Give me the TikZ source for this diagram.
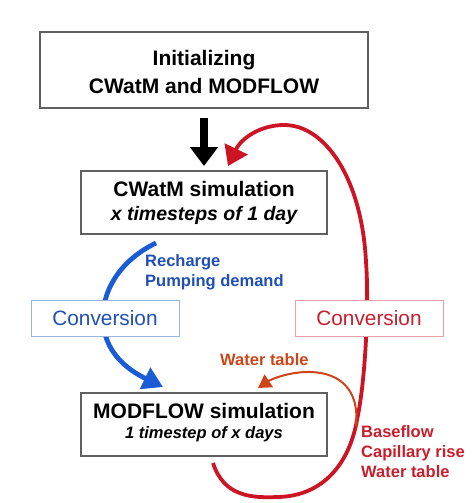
\documentclass[tikz,border=0pt]{standalone}
\usepackage{fontspec}
\setmainfont{Liberation Sans}
\usetikzlibrary{arrows.meta,calc}
\definecolor{bluearr}{HTML}{1A5CD6}
\definecolor{bluetxt}{HTML}{1F4FB4}
\definecolor{blueedge}{HTML}{9AB4E2}
\definecolor{redarr}{HTML}{CC1424}
\definecolor{redtxt}{HTML}{C81E2C}
\definecolor{rededge}{HTML}{E8A0A8}
\definecolor{orangearr}{HTML}{CC4418}
\definecolor{boxedge}{HTML}{606060}
\tikzset{
  mainbox/.style={draw=boxedge, line width=1.2pt, fill=white, inner sep=0pt, align=center},
  convbox/.style={line width=1pt, fill=white, inner sep=0pt, minimum width=148pt, minimum height=36pt, font=\fontsize{20.8}{24}\selectfont},
  title/.style={font=\fontsize{21}{26}\selectfont\bfseries},
  lbl/.style={font=\fontsize{16.5}{20}\selectfont\bfseries, align=left, inner sep=0pt},
}
\begin{document}
\begin{tikzpicture}[x=1pt,y=-1pt]
\useasboundingbox (0,0) rectangle (474,503);
% main boxes
\node[mainbox, minimum width=328pt, minimum height=76pt] (init) at (204,70) {};
\node[title] (initA) at (204,60) {Initializing};
\node[title] (initB) at (204,86) {CWatM and MODFLOW};
% red loop (behind boxes)
\coordinate (rstart) at (213,463);
\coordinate (rtip) at (228,166);
\coordinate (rjoin) at (356,426);
\draw[redarr, line width=3.8pt, -{Triangle[width=25pt,length=19pt]}]
  (rstart) .. controls (224,497) and (252,498) .. (278,497)
  .. controls (322,496) and (349,465) .. (357,420)
  .. controls (366,378) and (369,300) .. (366,262)
  .. controls (362,180) and (326,125) .. (284,125)
  .. controls (262,125) and (242,137) .. (rtip);
% blue arrow
\coordinate (bstart) at (156,243);
\coordinate (btip) at (163,387);
\draw[bluearr, line width=4.8pt, -{Triangle[width=23pt,length=20pt]}]
  (bstart) .. controls (125,258) and (103,285) .. (103,318)
  .. controls (103,352) and (128,370) .. (btip);
% orange arrow
\coordinate (otip) at (258,388);
\draw[orangearr, line width=2pt, -{Triangle[width=15pt,length=13pt]}]
  (rjoin) .. controls (360,385) and (335,371) .. (305,372)
  .. controls (285,373) and (270,380) .. (otip);
% black arrow
\coordinate (kstart) at (204,118);
\coordinate (ktip) at (204,166);
\draw[black, line width=8pt, -{Triangle[width=27pt,length=19pt]}] (kstart) -- (ktip);
\node[mainbox, minimum width=246pt, minimum height=63pt] (cw) at (204,202.5) {};
\node[title] (cwA) at (204,189) {CWatM simulation};
\node[font=\fontsize{19.5}{24}\selectfont\bfseries\itshape] (cwB) at (204,215) {x timesteps of 1 day};
\node[mainbox, minimum width=246pt, minimum height=63pt] (mf) at (204,424.5) {};
\node[title] (mfA) at (204,411) {MODFLOW simulation};
\node[font=\fontsize{16.5}{20}\selectfont\bfseries\itshape] (mfB) at (204,434) {1 timestep of x days};
% conversion boxes
\node[convbox, draw=blueedge, text=bluetxt] (convB) at (105,318) {Conversion};
\node[convbox, draw=rededge, text=redtxt] (convR) at (369,318) {Conversion};
% labels
\node[lbl, text=bluetxt, anchor=west] (lblB) at (145,272) {Recharge\\Pumping demand};
\node[lbl, text=orangearr, anchor=west] (lblO) at (220,360) {Water table};
\node[lbl, text=redtxt, anchor=west] (lblR) at (361,452) {Baseflow\\Capillary rise\\Water table};
\end{tikzpicture}
\end{document}
